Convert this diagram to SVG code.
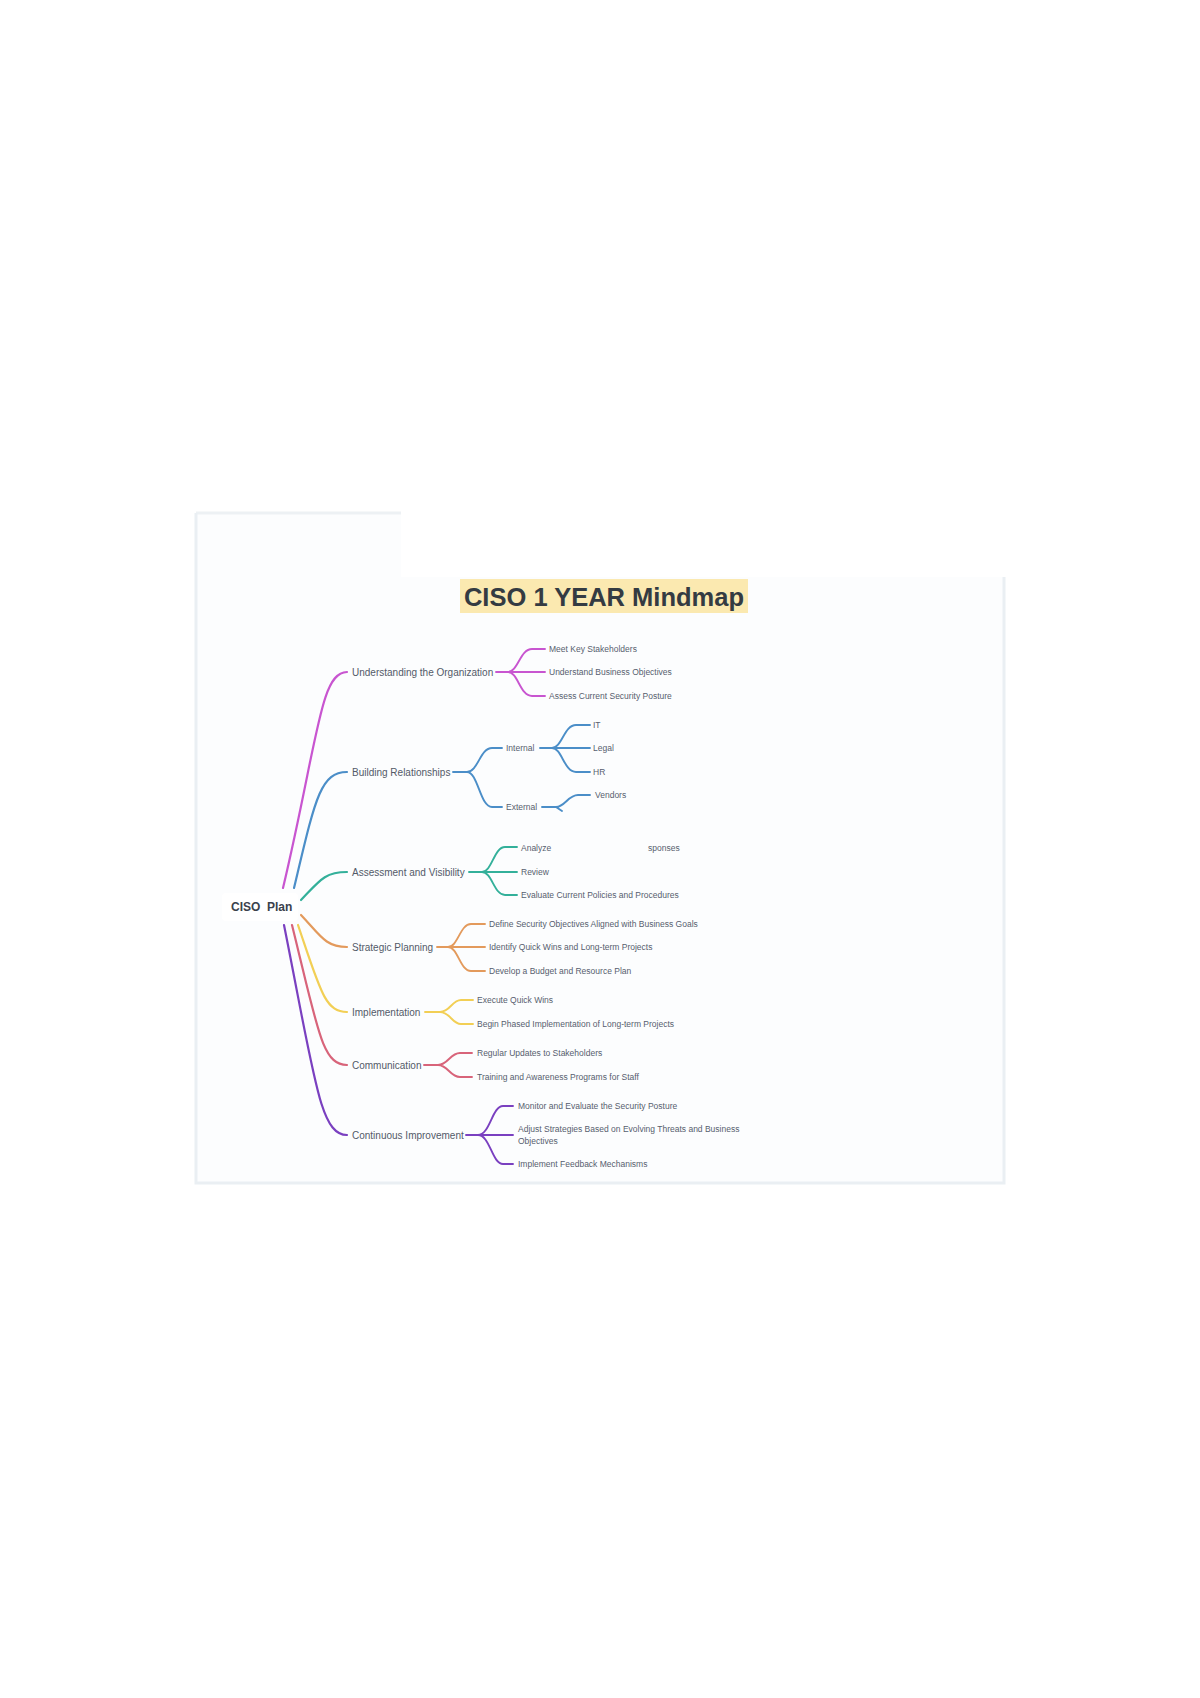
<svg xmlns="http://www.w3.org/2000/svg" width="1200" height="1698" viewBox="0 0 1200 1698">
<style>
  .root{font-family:"Liberation Sans",Arial,sans-serif;font-size:12px;font-weight:bold;fill:#3a414c;white-space:pre}
  .l1{font-family:"Liberation Sans",Arial,sans-serif;font-size:10px;fill:#535a68}
  .l2{font-family:"Liberation Sans",Arial,sans-serif;font-size:8.5px;fill:#575e6e}
  .title{font-family:"Liberation Sans",Arial,sans-serif;font-size:25.5px;font-weight:bold;fill:#343b42}
  .c{fill:none;stroke-linecap:round;stroke-linejoin:round}
  .m{stroke-width:2.2}
  .s{stroke-width:1.9}
  .pu{stroke:#c855d0}.bl{stroke:#4b8ec8}.te{stroke:#33b09a}.or{stroke:#e39a5c}
  .ye{stroke:#f2cf55}.re{stroke:#d8647a}.vi{stroke:#7a40c0}
</style>
<rect x="0" y="0" width="1200" height="1698" fill="#ffffff"/>
<g id="panel">
  <path d="M196,513 H401 V577 H1004 V1183 H196 Z" fill="#fcfdfe"/>
  <path d="M196,513 H401" stroke="#edf1f4" stroke-width="3" fill="none"/>
  <path d="M196,513 V1183 H1004 V577" stroke="#eaeff3" stroke-width="3" fill="none"/>
</g>
<g id="title">
  <rect x="460" y="579" width="288" height="34" fill="#fbe9b0"/>
  <text x="604" y="606" text-anchor="middle" class="title">CISO 1 YEAR Mindmap</text>
</g>
<g id="connectors">
  <path class="c m pu" d="M283,888 C318,740 320,672 347,672"/>
  <path class="c m bl" d="M294,888 C315,800 320,772 347,772"/>
  <path class="c m te" d="M301,900 C320,880 325,872 347,872"/>
  <path class="c m or" d="M301,915 C320,935 325,947 347,947"/>
  <path class="c m ye" d="M298,925 C320,990 325,1012 347,1012"/>
  <path class="c m re" d="M292,925 C318,1030 322,1065 347,1065"/>
  <path class="c m vi" d="M284,925 C315,1080 320,1135 347,1135"/>

  <path class="c s pu" d="M496,672 H508 M508,672 C518,672 520,649 532,649 H545 M508,672 H545 M508,672 C518,672 520,696 532,696 H545"/>

  <path class="c s bl" d="M453,772 H467 M467,772 C478,772 480,748 492,748 H502 M467,772 C478,772 480,807 492,807 H502"/>
  <path class="c s bl" d="M540,748 H552 M552,748 C562,748 564,725 576,725 H590 M552,748 H590 M552,748 C562,748 564,772 576,772 H590"/>
  <path class="c s bl" d="M542,807 H556 M556,807 C565,807 568,795 578,795 H590 M556,807 L562,811"/>

  <path class="c s te" d="M469,872 H482 M482,872 C492,872 494,847 505,847 H517 M482,872 H517 M482,872 C492,872 494,895 505,895 H517"/>

  <path class="c s or" d="M437,947 H448 M448,947 C458,947 460,924 471,924 H485 M448,947 H485 M448,947 C458,947 460,971 471,971 H485"/>

  <path class="c s ye" d="M425,1012 H440 M440,1012 C450,1012 452,1000 461,1000 H473 M440,1012 C450,1012 452,1024 461,1024 H473"/>

  <path class="c s re" d="M424,1065 H438 M438,1065 C448,1065 450,1053 460,1053 H472 M438,1065 C448,1065 450,1077 460,1077 H472"/>

  <path class="c s vi" d="M466,1135 H478 M478,1135 C490,1135 492,1106 503,1106 H513 M478,1135 H513 M478,1135 C490,1135 492,1164 503,1164 H513"/>
</g>
<g id="n-root">
  <rect x="222" y="893" width="76" height="28" rx="4" fill="#ffffff"/>
  <text x="231" y="911" class="root">CISO  Plan</text>
</g>
<g id="n-understanding"><text x="352" y="675.5" class="l1">Understanding the Organization</text></g>
<g id="n-meet"><text x="549" y="652" class="l2">Meet Key Stakeholders</text></g>
<g id="n-business"><text x="549" y="675" class="l2">Understand Business Objectives</text></g>
<g id="n-assess"><text x="549" y="699" class="l2">Assess Current Security Posture</text></g>

<g id="n-building"><text x="352" y="775.5" class="l1">Building Relationships</text></g>
<g id="n-internal"><text x="506" y="751" class="l2">Internal</text></g>
<g id="n-it"><text x="593" y="728" class="l2">IT</text></g>
<g id="n-legal"><text x="593" y="751" class="l2">Legal</text></g>
<g id="n-hr"><text x="593" y="775" class="l2">HR</text></g>
<g id="n-external"><text x="506" y="810" class="l2">External</text></g>
<g id="n-vendors"><text x="595" y="798" class="l2">Vendors</text></g>

<g id="n-assessment"><text x="352" y="875.5" class="l1">Assessment and Visibility</text></g>
<g id="n-analyze"><text x="521" y="851" class="l2">Analyze</text><text x="648" y="851" class="l2">sponses</text></g>
<g id="n-review"><text x="521" y="875" class="l2">Review</text></g>
<g id="n-evaluate"><text x="521" y="898" class="l2">Evaluate Current Policies and Procedures</text></g>

<g id="n-strategic"><text x="352" y="950.5" class="l1">Strategic Planning</text></g>
<g id="n-define"><text x="489" y="927" class="l2">Define Security Objectives Aligned with Business Goals</text></g>
<g id="n-identify"><text x="489" y="950" class="l2">Identify Quick Wins and Long-term Projects</text></g>
<g id="n-develop"><text x="489" y="974" class="l2">Develop a Budget and Resource Plan</text></g>

<g id="n-implementation"><text x="352" y="1015.5" class="l1">Implementation</text></g>
<g id="n-execute"><text x="477" y="1003" class="l2">Execute Quick Wins</text></g>
<g id="n-begin"><text x="477" y="1027" class="l2">Begin Phased Implementation of Long-term Projects</text></g>

<g id="n-communication"><text x="352" y="1068.5" class="l1">Communication</text></g>
<g id="n-regular"><text x="477" y="1056" class="l2">Regular Updates to Stakeholders</text></g>
<g id="n-training"><text x="477" y="1080" class="l2">Training and Awareness Programs for Staff</text></g>

<g id="n-continuous"><text x="352" y="1138.5" class="l1">Continuous Improvement</text></g>
<g id="n-monitor"><text x="518" y="1109" class="l2">Monitor and Evaluate the Security Posture</text></g>
<g id="n-adjust"><text x="518" y="1132" class="l2">Adjust Strategies Based on Evolving Threats and Business</text><text x="518" y="1144" class="l2">Objectives</text></g>
<g id="n-feedback"><text x="518" y="1167" class="l2">Implement Feedback Mechanisms</text></g>
</svg>
